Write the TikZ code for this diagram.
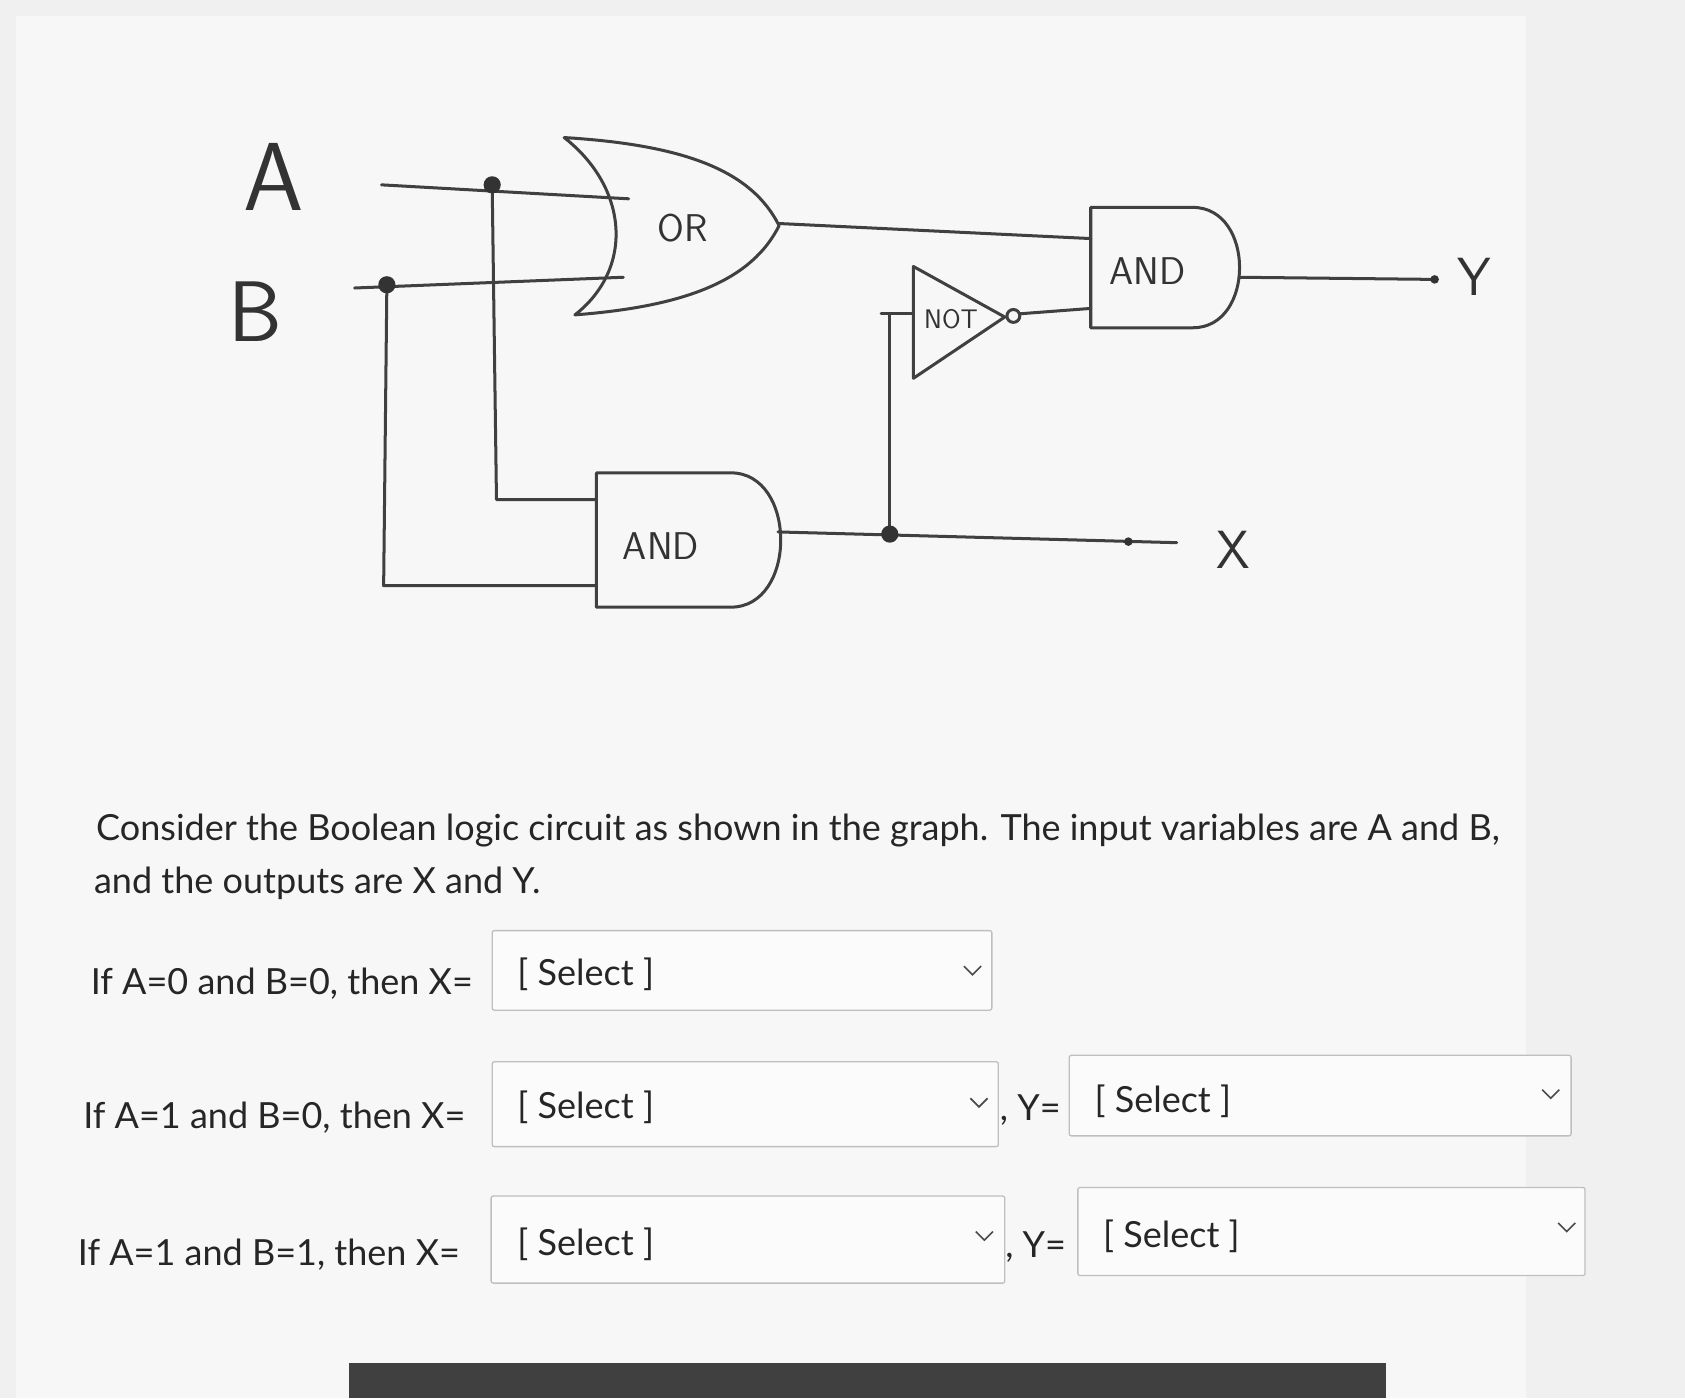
\documentclass[tikz,border=0pt]{standalone}
\usepackage{fontspec}
\setmainfont{Lato}
\begin{document}
\begin{tikzpicture}[x=1pt,y=-1pt,
  wire/.style={draw=black!75,line width=2.8pt,line cap=round,line join=round},
  hand/.style={font=\sffamily\fontsize{36}{36}\selectfont,text=black!80},
  body/.style={font=\fontsize{33.5}{38}\selectfont,text=black!85,anchor=west},
  selbox/.style={draw=black!25,line width=1.2pt,fill=white!97!gray,rounded corners=2pt},
  chev/.style={draw=black!70,line width=1.5pt}]
\useasboundingbox (0,0) rectangle (1568,1301);
\fill[black!6] (0,0) rectangle (1568,1301);
\fill[white!94!gray] (15,15) rectangle (1420,1301);
\fill[black!75] (325,1268) rectangle (1290,1301);
% labels A B
\node[hand,font=\sffamily\fontsize{90}{90}\selectfont] (lA) at (255,165) {A};
\node[hand,font=\sffamily\fontsize{80}{80}\selectfont] (lB) at (238,290) {B};
% OR gate
\draw[wire] (525,128) .. controls (585,175) and (590,250) .. (535,293)
            (525,128) .. controls (640,135) and (700,160) .. (725,210)
            (535,293) .. controls (640,285) and (700,260) .. (725,210);
\node[hand] (or) at (635,212) {OR};
% AND top
\draw[wire] (1110,193) -- (1015,193) -- (1015,305) -- (1110,305) .. controls (1168,305) and (1168,193) .. (1110,193);
\node[hand] (and1) at (1068,252) {AND};
% NOT
\draw[wire] (850,248) -- (935,295) -- (850,352) -- cycle;
\draw[wire] (943,294) circle (6);
\node[hand,font=\sffamily\fontsize{25}{25}\selectfont] (not) at (885,297) {NOT};
% AND bottom
\draw[wire] (680,440) -- (555,440) -- (555,565) -- (680,565) .. controls (742,565) and (742,440) .. (680,440);
\node[hand] (and2) at (615,508) {AND};
% wires
\coordinate (dA) at (458,172); \coordinate (dB) at (360,265); \coordinate (dX) at (828,497);
\draw[wire] (355,172) -- (585,185);
\draw[wire] (330,268) -- (580,258);
\draw[wire] (dA) -- (462,465) -- (555,465);
\draw[wire] (dB) -- (357,545) -- (555,545);
\draw[wire] (725,208) -- (1015,222);
\draw[wire] (949,292) -- (1015,287);
\draw[wire] (1153,258) -- (1335,260);
\draw[wire] (724,495) -- (1095,505);
\draw[wire] (820,292) -- (850,292) (828,292) -- (dX);
\fill[black!80] (dA) circle (8) (dB) circle (8) (dX) circle (8) (1335,260) circle (4) (1050,504) circle (4);
\node[hand,font=\sffamily\fontsize{50}{50}\selectfont] (Y) at (1372,258) {Y};
\node[hand,font=\sffamily\fontsize{50}{50}\selectfont] (X) at (1148,512) {X};
% text
\node[body] (t1) at (86,773) {Consider the Boolean logic circuit as shown in the graph. The input variables are A and B,};
\node[body] (t2) at (84,822) {and the outputs are X and Y.};
\node[body] (q1) at (81,915) {If A=0 and B=0, then X=};
\draw[selbox] (458,866) rectangle (923,940);
\node[body] at (478,907) {[ Select ]};
\draw[chev] (897,899) -- (905,907) -- (913,899);
\node[body] (q2) at (74,1040) {If A=1 and B=0, then X=};
\draw[selbox] (458,988) rectangle (929,1067);
\node[body] at (478,1030) {[ Select ]};
\draw[chev] (903,1022) -- (911,1030) -- (919,1022);
\node[body] at (927,1033) {, Y=};
\draw[selbox] (995,982) rectangle (1462,1057);
\node[body] at (1015,1025) {[ Select ]};
\draw[chev] (1435,1014) -- (1443,1022) -- (1451,1014);
\node[body] (q3) at (69,1168) {If A=1 and B=1, then X=};
\draw[selbox] (457,1113) rectangle (935,1194);
\node[body] at (478,1158) {[ Select ]};
\draw[chev] (908,1146) -- (916,1154) -- (924,1146);
\node[body] at (932,1160) {, Y=};
\draw[selbox] (1003,1105) rectangle (1475,1187);
\node[body] at (1023,1150) {[ Select ]};
\draw[chev] (1450,1138) -- (1458,1146) -- (1466,1138);
\end{tikzpicture}
\end{document}
